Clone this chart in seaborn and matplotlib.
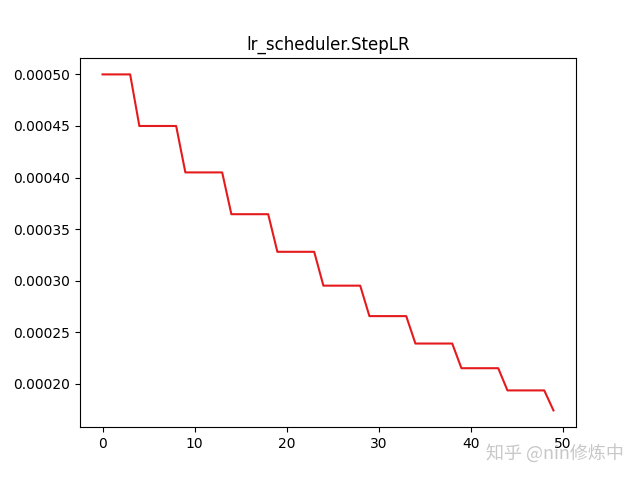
import matplotlib
matplotlib.use("Agg")
import matplotlib.pyplot as plt
import seaborn as sns
import pandas as pd

epochs = list(range(50))
lr = ([0.0005]*4 + [0.00045]*5 + [0.000405]*5 + [0.0003645]*5 + [0.00032805]*5
      + [0.000295245]*5 + [0.0002657205]*5 + [0.00023914845]*5 + [0.000215233605]*5
      + [0.0001937102445]*5 + [0.00017433922005]*1)

df = pd.DataFrame({"epoch": epochs, "lr": lr})
fig, ax = plt.subplots(figsize=(6.4, 4.8), dpi=100)
sns.lineplot(data=df, x="epoch", y="lr", color="#e41a1c", ax=ax)
ax.set_xlabel("")
ax.set_ylabel("")
ax.set_title("lr_scheduler.StepLR")
ax.yaxis.set_major_formatter(matplotlib.ticker.FormatStrFormatter("%.5f"))
fig.text(0.975, 0.055, "知乎 @nin修炼中", ha="right", va="center", fontsize=13,
         color="#c8c8c8", family=["Noto Sans CJK SC", "DejaVu Sans"])
fig.savefig("out.png", dpi=100)
